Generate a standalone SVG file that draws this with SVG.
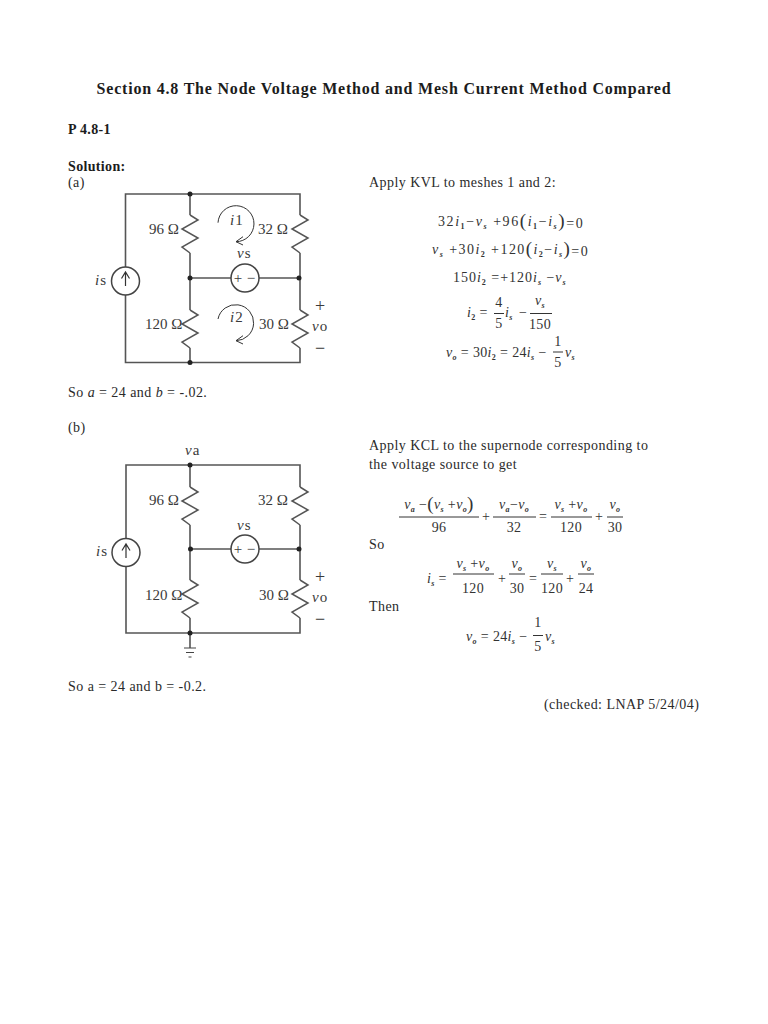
<svg xmlns="http://www.w3.org/2000/svg" width="768" height="1024" viewBox="0 0 768 1024">
<style>
text{font-family:"Liberation Serif","Times New Roman",serif;fill:#2a2a2a}
.t{font-size:14px;letter-spacing:.45px}
.b{font-weight:bold;fill:#1c1c1c;letter-spacing:.35px}
.h{font-size:16px;font-weight:bold;letter-spacing:.8px;fill:#1c1c1c}
.c{font-size:15px;fill:#3a3a3a}
.g{font-size:18px;fill:#3a3a3a;text-anchor:middle}
.m{font-size:14px;letter-spacing:.35px;fill:#333}
.e{text-anchor:middle}
.i{font-style:italic}
.s{font-size:8px;font-weight:bold}
.p{font-size:19px;font-weight:200}
.w{fill:none;stroke:#555;stroke-width:1.6}
.f{fill:#fff;stroke:#444;stroke-width:1.5}
.d{fill:#222}
.r{fill:none;stroke:#333;stroke-width:1}
</style>
<defs>
<path id="z" d="M0,0 L8,5 L-8,14 L8,23 L-8,32 L0,38" fill="none" stroke="#555" stroke-width="1.5"/>
<path id="ch" d="M-4,6.500 L0,0 L4,6.500 M0,0 V14" fill="none" stroke="#333" stroke-width="1.200"/>
</defs>
<rect width="768" height="1024" fill="#fff"/>

<g id="page-text">
<text class="h" x="384" y="94" text-anchor="middle">Section 4.8 The Node Voltage Method and Mesh Current Method Compared</text>
<text class="t b" x="68" y="134">P 4.8-1</text>
<text class="t b" x="68" y="171">Solution:</text>
<text class="t" x="68" y="187">(a)</text>
<text class="t" x="369" y="187">Apply KVL to meshes 1 and 2:</text>
<text class="t" x="68" y="397">So <tspan class="i">a</tspan> = 24 and <tspan class="i">b</tspan> = -.02.</text>
<text class="t" x="68" y="432">(b)</text>
<text class="t" x="369" y="450">Apply KCL to the supernode corresponding to</text>
<text class="t" x="369" y="469">the voltage source to get</text>
<text class="t" x="369" y="549">So</text>
<text class="t" x="369" y="611">Then</text>
<text class="t" x="68" y="691">So a = 24 and b = -0.2.</text>
<text class="t" x="544" y="709">(checked: LNAP 5/24/04)</text>
</g>

<g id="connectors-a">
<path class="w" d="M190,194 H125.500 V267 M125.500,295 V362.500 H300 V348 M190,194 H300 V215 M300,253 V310 M190,194 V215 M190,253 V310 M190,348 V362.500 M190,278 H231 M259,278 H300"/>
<use href="#z" x="190" y="215"/>
<use href="#z" x="300" y="215"/>
<use href="#z" x="190" y="310"/>
<use href="#z" x="300" y="310"/>
<path class="r" d="M218,222.700 A18,18 0 1 1 236,241.700 M243,236.700 L236,241.700 L243,245"/>
<path class="r" d="M218,319 A18,18 0 1 1 236,340.700 M243,335.700 L236,340.700 L243,344"/>
</g>
<g id="node-a-top"><circle class="d" cx="190" cy="194" r="2.500"/></g>
<g id="node-a-left"><circle class="d" cx="190" cy="278" r="2.500"/></g>
<g id="node-a-right"><circle class="d" cx="299" cy="278" r="2.500"/></g>
<g id="node-a-bottom"><circle class="d" cx="190" cy="362.500" r="2.500"/></g>
<g id="source-a-i"><circle class="f" cx="125.500" cy="281" r="14"/><use href="#ch" x="125.500" y="272"/></g>
<g id="source-a-v"><circle class="f" cx="245" cy="278" r="14"/><text class="c" x="238" y="283" text-anchor="middle">+</text><text class="c" x="251" y="283" text-anchor="middle">−</text></g>
<g id="labels-a">
<text class="c" x="149" y="234">96 Ω</text>
<text class="c" x="258" y="234">32 Ω</text>
<text class="c" x="145" y="329">120 Ω</text>
<text class="c" x="259" y="329">30 Ω</text>
<text class="c" x="95" y="285"><tspan class="i">i</tspan><tspan dx="1">s</tspan></text>
<text class="c" x="230" y="225"><tspan class="i">i</tspan><tspan dx="1">1</tspan></text>
<text class="c" x="230" y="322"><tspan class="i">i</tspan><tspan dx="1">2</tspan></text>
<text class="c" x="237" y="258"><tspan class="i">v</tspan><tspan dx="1">s</tspan></text>
<text class="g" x="320" y="312">+</text>
<text class="c" x="312" y="331"><tspan class="i">v</tspan><tspan dx="1">o</tspan></text>
<text class="g" x="320" y="354">−</text>
</g>

<g id="connectors-b">
<path class="w" d="M190,465 H126 V538.500 M126,566.500 V633 H300 V618 M190,465 H300 V487 M300,525 V580 M190,465 V487 M190,525 V580 M190,618 V648 M190,549 H231 M259,549 H300"/>
<use href="#z" x="190" y="487"/>
<use href="#z" x="300" y="487"/>
<use href="#z" x="190" y="580"/>
<use href="#z" x="300" y="580"/>
<path d="M184,648 H196 M186,652.500 H194 M188.500,657 H191.500" fill="none" stroke="#444" stroke-width="1.200"/>
</g>
<g id="node-b-top"><circle class="d" cx="190" cy="465" r="2.500"/></g>
<g id="node-b-left"><circle class="d" cx="190.500" cy="549" r="2.500"/></g>
<g id="node-b-right"><circle class="d" cx="299" cy="549" r="2.500"/></g>
<g id="node-b-bottom"><circle class="d" cx="190" cy="633" r="2.500"/></g>
<g id="source-b-i"><circle class="f" cx="126" cy="552.500" r="14"/><use href="#ch" x="126" y="544"/></g>
<g id="source-b-v"><circle class="f" cx="245" cy="549" r="14"/><text class="c" x="238" y="554" text-anchor="middle">+</text><text class="c" x="251" y="554" text-anchor="middle">−</text></g>
<g id="labels-b">
<text class="c" x="185" y="455"><tspan class="i">v</tspan><tspan dx="1">a</tspan></text>
<text class="c" x="149" y="505">96 Ω</text>
<text class="c" x="258" y="505">32 Ω</text>
<text class="c" x="145" y="600">120 Ω</text>
<text class="c" x="259" y="600">30 Ω</text>
<text class="c" x="96" y="556"><tspan class="i">i</tspan><tspan dx="1">s</tspan></text>
<text class="c" x="237" y="530"><tspan class="i">v</tspan><tspan dx="1">s</tspan></text>
<text class="g" x="320" y="583">+</text>
<text class="c" x="312" y="602"><tspan class="i">v</tspan><tspan dx="1">o</tspan></text>
<text class="g" x="320" y="625">−</text>
</g>

<g id="equations-a">
<text class="m" x="438" y="226" textLength="145">32<tspan class="i">i</tspan><tspan class="s" dy="3">1</tspan><tspan dy="-3">−</tspan><tspan class="i">v</tspan><tspan class="s i" dy="3">s</tspan><tspan dy="-3"> +96</tspan><tspan class="p" dy="1">(</tspan><tspan class="i" dy="-1">i</tspan><tspan class="s" dy="3">1</tspan><tspan dy="-3">−</tspan><tspan class="i">i</tspan><tspan class="s i" dy="3">s</tspan><tspan class="p" dy="-2">)</tspan><tspan dy="1">=0</tspan></text>
<text class="m" x="432" y="254" textLength="156"><tspan class="i">v</tspan><tspan class="s i" dy="3">s</tspan><tspan dy="-3"> +30</tspan><tspan class="i">i</tspan><tspan class="s" dy="3">2</tspan><tspan dy="-3"> +120</tspan><tspan class="p" dy="1">(</tspan><tspan class="i" dy="-1">i</tspan><tspan class="s" dy="3">2</tspan><tspan dy="-3">−</tspan><tspan class="i">i</tspan><tspan class="s i" dy="3">s</tspan><tspan class="p" dy="-2">)</tspan><tspan dy="1">=0</tspan></text>
<text class="m" x="453" y="282" textLength="113">150<tspan class="i">i</tspan><tspan class="s" dy="3">2</tspan><tspan dy="-3"> =+120</tspan><tspan class="i">i</tspan><tspan class="s i" dy="3">s</tspan><tspan dy="-3"> −</tspan><tspan class="i">v</tspan><tspan class="s i" dy="3">s</tspan></text>
<text class="m" x="467" y="317"><tspan class="i">i</tspan><tspan class="s" dy="3">2</tspan><tspan dy="-3"> =</tspan></text>
<text class="m e" x="499" y="307">4</text><path class="r" d="M494,313.500 H504"/><text class="m e" x="499" y="328">5</text>
<text class="m" x="505" y="317"><tspan class="i">i</tspan><tspan class="s i" dy="3">s</tspan></text>
<text class="m" x="519" y="317">−</text>
<text class="m e" x="540" y="305"><tspan class="i">v</tspan><tspan class="s i" dy="3">s</tspan></text><path class="r" d="M530,313.500 H552"/><text class="m e" x="540" y="329">150</text>
<text class="m" x="446" y="357"><tspan class="i">v</tspan><tspan class="s i" dy="3">o</tspan><tspan dy="-3"> = 30</tspan><tspan class="i">i</tspan><tspan class="s" dy="3">2</tspan><tspan dy="-3"> = 24</tspan><tspan class="i">i</tspan><tspan class="s i" dy="3">s</tspan><tspan dy="-3"> −</tspan></text>
<text class="m e" x="558" y="346">1</text><path class="r" d="M553,352 H563"/><text class="m e" x="558" y="367">5</text>
<text class="m" x="565" y="357"><tspan class="i">v</tspan><tspan class="s i" dy="3">s</tspan></text>
</g>

<g id="equations-b">
<text class="m e" x="439" y="509"><tspan class="i">v</tspan><tspan class="s i" dy="3">a</tspan><tspan dy="-3"> −</tspan><tspan class="p" dy="1">(</tspan><tspan class="i" dy="-1">v</tspan><tspan class="s i" dy="3">s</tspan><tspan dy="-3"> +</tspan><tspan class="i">v</tspan><tspan class="s i" dy="3">o</tspan><tspan class="p" dy="-2">)</tspan></text>
<path class="r" d="M399,517 H479 M493,517 H536 M551,517 H592 M607,517 H623"/>
<text class="m e" x="439" y="532">96</text>
<text class="m e" x="486" y="521">+</text>
<text class="m e" x="514" y="509"><tspan class="i">v</tspan><tspan class="s i" dy="3">a</tspan><tspan dy="-3">−</tspan><tspan class="i">v</tspan><tspan class="s i" dy="3">o</tspan></text>
<text class="m e" x="514" y="532">32</text>
<text class="m e" x="543" y="521">=</text>
<text class="m e" x="571" y="509"><tspan class="i">v</tspan><tspan class="s i" dy="3">s</tspan><tspan dy="-3"> +</tspan><tspan class="i">v</tspan><tspan class="s i" dy="3">o</tspan></text>
<text class="m e" x="571" y="532">120</text>
<text class="m e" x="599" y="521">+</text>
<text class="m e" x="615" y="509"><tspan class="i">v</tspan><tspan class="s i" dy="3">o</tspan></text>
<text class="m e" x="615" y="532">30</text>

<text class="m" x="427" y="583"><tspan class="i">i</tspan><tspan class="s i" dy="3">s</tspan><tspan dy="-3"> =</tspan></text>
<path class="r" d="M453,574 H494 M509,574 H525 M541,574 H563 M578,574 H594"/>
<text class="m e" x="473" y="568"><tspan class="i">v</tspan><tspan class="s i" dy="3">s</tspan><tspan dy="-3"> +</tspan><tspan class="i">v</tspan><tspan class="s i" dy="3">o</tspan></text>
<text class="m e" x="473" y="593">120</text>
<text class="m e" x="502" y="583">+</text>
<text class="m e" x="517" y="568"><tspan class="i">v</tspan><tspan class="s i" dy="3">o</tspan></text>
<text class="m e" x="517" y="593">30</text>
<text class="m e" x="533" y="583">=</text>
<text class="m e" x="552" y="568"><tspan class="i">v</tspan><tspan class="s i" dy="3">s</tspan></text>
<text class="m e" x="552" y="593">120</text>
<text class="m e" x="570" y="583">+</text>
<text class="m e" x="586" y="568"><tspan class="i">v</tspan><tspan class="s i" dy="3">o</tspan></text>
<text class="m e" x="586" y="593">24</text>

<text class="m" x="466" y="641"><tspan class="i">v</tspan><tspan class="s i" dy="3">o</tspan><tspan dy="-3"> = 24</tspan><tspan class="i">i</tspan><tspan class="s i" dy="3">s</tspan><tspan dy="-3"> −</tspan></text>
<text class="m e" x="538" y="627">1</text><path class="r" d="M533,635.500 H543"/><text class="m e" x="538" y="651">5</text>
<text class="m" x="545" y="641"><tspan class="i">v</tspan><tspan class="s i" dy="3">s</tspan></text>
</g>
</svg>
